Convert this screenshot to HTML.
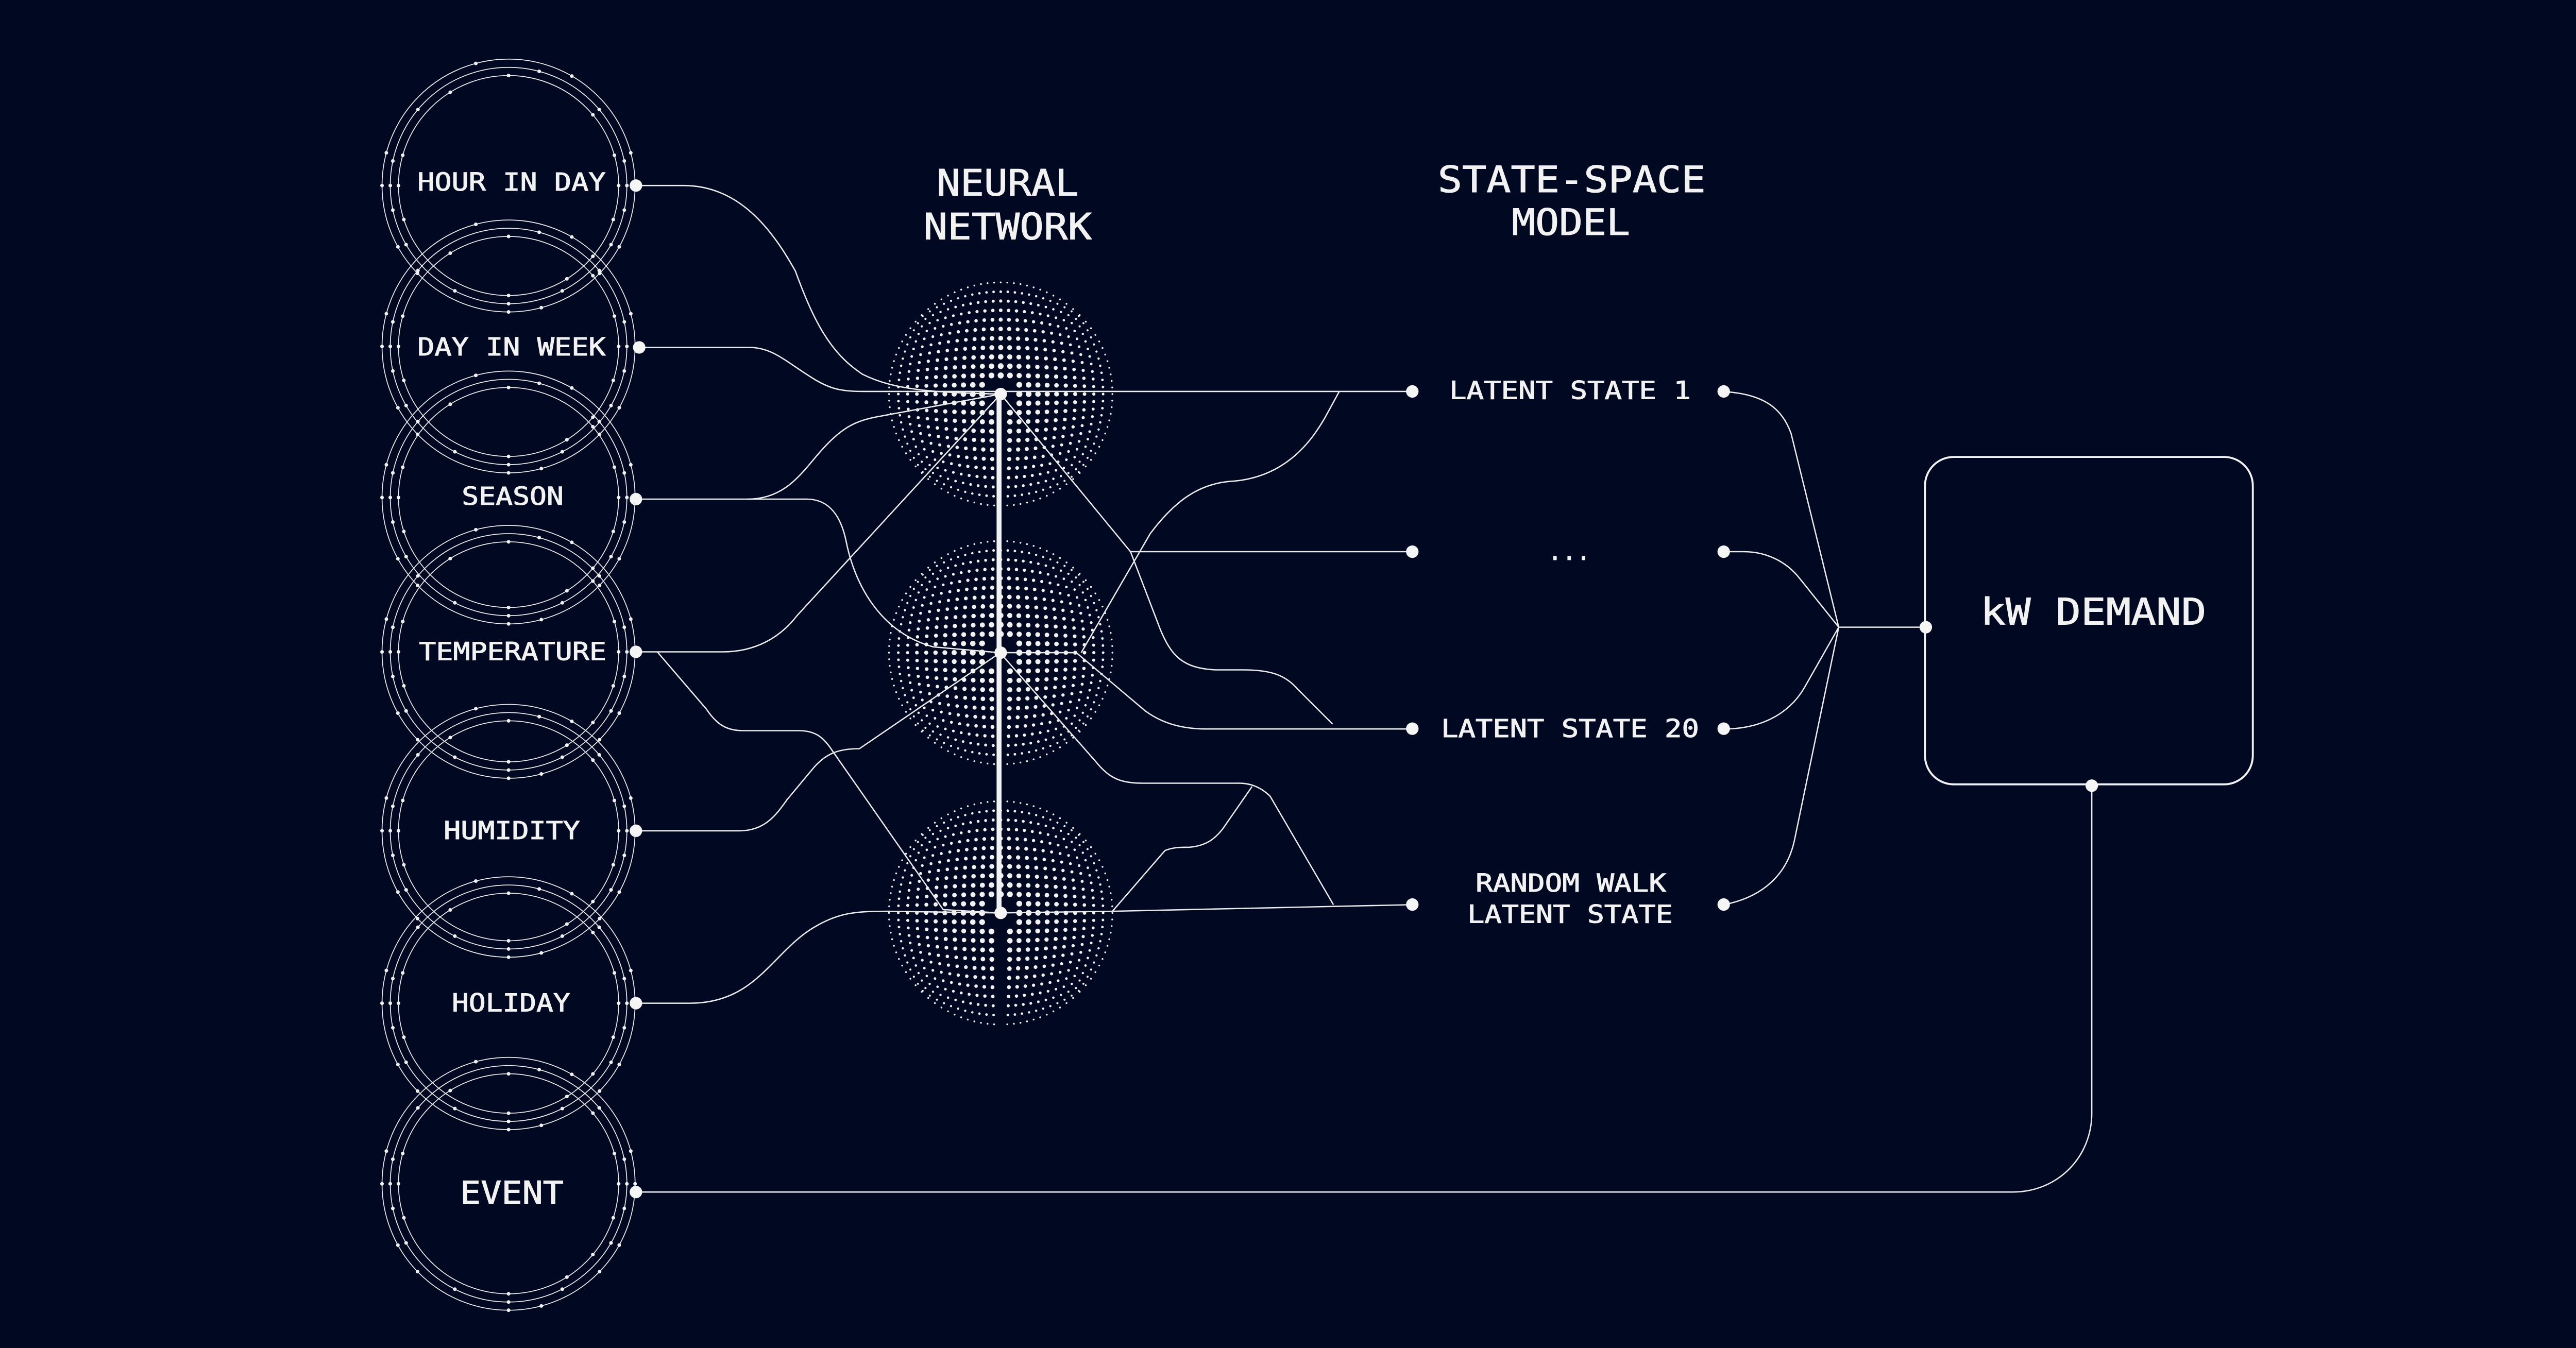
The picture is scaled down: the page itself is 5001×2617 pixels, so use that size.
<!DOCTYPE html>
<html><head><meta charset="utf-8">
<style>
html,body{margin:0;padding:0;background:#010922;}
svg{display:block}
text{font-family:"DejaVu Sans Mono","Liberation Mono",monospace;fill:#f2f2f2;stroke:#f2f2f2;stroke-width:0.35}
</style></head>
<body>
<svg id="s" width="5001" height="2617" viewBox="0 0 1568 821" preserveAspectRatio="none" xmlns="http://www.w3.org/2000/svg">
<rect width="1568" height="821" fill="#010922"/>
<g id="rings" fill="none" stroke="#e8e8e8" stroke-width="0.55"></g>
<g id="ringdots" fill="#f2f2f2"></g>
<g id="spheres" fill="#f2f2f2"></g>
<g fill="none" stroke="#ececec" stroke-width="0.8">
<path d="M387 113 H416 C450 113 470 140 484 165 C495 195 505 215 525 228 C545 238 570 239 608 240"/>
<path d="M389 211.6 H456 C470 211.6 478 220 494 230 C505 237 512 238.4 525 238.4 H859"/>
<path d="M387 304 H455 C475 304 485 292 495 280 C510 262 518 257 533 254 L609 240"/>
<path d="M455 304 H491 C505 304 512 315 515 330 C520 355 535 385 568 394 L608 397.5"/>
<path d="M387 397 H440 C460 397 475 388 485 375 L609 240"/>
<path d="M400 397 L430 432 C436 441 442 445 452 445 H486 C495 445 500 448 505 455 L574 554 L608 556"/>
<path d="M387 506 H450 C465 506 472 497 479 487 L494 469 C502 459 510 456 523 456 L608 398"/>
<path d="M387 611 H420 C460 611 470 580 495 565 C510 556 520 555 540 555 L608 556"/>
<path d="M658 397.5 L700 325 C715 305 730 294 751 293 C785 290 800 265 806 255 L815 238.5"/>
<path d="M688 336 H859"/>
<path d="M609 240 L688 336 L706 383 C713 400 720 407 740 408 H757 C775 408 783 412 790 420 L811 441"/>
<path d="M609 397.5 H655 L697 433 C708 441 720 444 735 444 H859"/>
<path d="M609 398 L667 464 C675 474 682 477 695 477 H754 C762 477 768 480 773 485 L811.5 551"/>
<path d="M609 556 L677 555 L859.5 551"/>
<path d="M677 555 L709 518 C714 516 718 516 724 516 C735 515 740 510 744 505 L762 479"/>
<path d="M1049 238.5 C1075 240 1085 250 1090 264 L1119 382"/>
<path d="M1049 336 H1061 C1075 336 1087 342 1095 352 L1119 382"/>
<path d="M1049 444 C1070 444 1088 436 1098 419 L1119 382"/>
<path d="M1049 551 C1070 547 1087 535 1092 512 L1119 382"/>
<path d="M1119 382 H1171"/>
<path d="M387 726 H1225 C1252 726 1273 705 1273 678 V478"/>
</g>
<rect x="1171.5" y="278.3" width="199.5" height="199.4" rx="17.5" fill="none" stroke="#f2f2f2" stroke-width="1.2"/>
<rect x="606.5" y="240" width="3" height="316" fill="#f2f2f2"/>
<g fill="#f5f5f5">
<circle cx="387" cy="113" r="3.8"/><circle cx="389" cy="211.6" r="3.8"/><circle cx="387" cy="304" r="3.8"/>
<circle cx="387" cy="397" r="3.8"/><circle cx="387" cy="506" r="3.8"/><circle cx="387" cy="611" r="3.8"/>
<circle cx="387" cy="726" r="3.8"/>
<circle cx="609" cy="240" r="3.8"/><circle cx="609" cy="397.5" r="3.8"/><circle cx="609" cy="556" r="3.8"/>
<circle cx="859.5" cy="238.4" r="3.8"/><circle cx="859.5" cy="336" r="3.8"/><circle cx="859.5" cy="443.8" r="3.8"/><circle cx="859.5" cy="550.9" r="3.8"/>
<circle cx="1049" cy="238.4" r="3.8"/><circle cx="1049" cy="336" r="3.8"/><circle cx="1049" cy="443.8" r="3.8"/><circle cx="1049" cy="550.9" r="3.8"/>
<circle cx="1172" cy="382" r="3.8"/><circle cx="1273" cy="478.5" r="3.8"/>
</g>
<g font-size="15">
<text x="254" y="116" textLength="114.6" lengthAdjust="spacingAndGlyphs">HOUR IN DAY</text>
<text x="254" y="216.5" textLength="114.6" lengthAdjust="spacingAndGlyphs">DAY IN WEEK</text>
<text x="281" y="307.5" textLength="62" lengthAdjust="spacingAndGlyphs">SEASON</text>
<text x="255" y="402" textLength="114" lengthAdjust="spacingAndGlyphs">TEMPERATURE</text>
<text x="270" y="511" textLength="83" lengthAdjust="spacingAndGlyphs">HUMIDITY</text>
<text x="275" y="616" textLength="72" lengthAdjust="spacingAndGlyphs">HOLIDAY</text>
<text x="882" y="243" textLength="147" lengthAdjust="spacingAndGlyphs">LATENT STATE 1</text>
<text x="942" y="341" textLength="26" lengthAdjust="spacingAndGlyphs">...</text>
<text x="877" y="449" textLength="157" lengthAdjust="spacingAndGlyphs">LATENT STATE 20</text>
<text x="898" y="543" textLength="116" lengthAdjust="spacingAndGlyphs">RANDOM WALK</text>
<text x="893" y="562" textLength="125" lengthAdjust="spacingAndGlyphs">LATENT STATE</text>
</g>
<text x="280" y="733" font-size="19" textLength="63" lengthAdjust="spacingAndGlyphs">EVENT</text>
<g font-size="22">
<text x="570" y="119" textLength="86.5" lengthAdjust="spacingAndGlyphs">NEURAL</text>
<text x="562" y="145.7" textLength="102.5" lengthAdjust="spacingAndGlyphs">NETWORK</text>
<text x="875" y="117" textLength="163" lengthAdjust="spacingAndGlyphs">STATE-SPACE</text>
<text x="920" y="143" textLength="72" lengthAdjust="spacingAndGlyphs">MODEL</text>
<text x="1205.3" y="380.4" font-size="22.5" textLength="137.4" lengthAdjust="spacingAndGlyphs">kW DEMAND</text>
</g>
</svg>
<script>
(function(){
var NS="http://www.w3.org/2000/svg";
function c(g,x,y,r){var e=document.createElementNS(NS,"circle");e.setAttribute("cx",x.toFixed(2));e.setAttribute("cy",y.toFixed(2));e.setAttribute("r",r.toFixed(2));g.appendChild(e);}
var rings=document.getElementById("rings"),rd=document.getElementById("ringdots");
var ys=[113,211,303,397,506,611,721];
var radii=[77,72,67];
var angs=[[0,180,-15,195,29,151,44,136,90,75,-105,-60],[180,0,12,168,-12,-168,-40,-140,30,150,63,117,90,-75],[0,180,-16,196,18,162,40,-40,90,-90,58,-122]];
ys.forEach(function(cy){
 radii.forEach(function(r,k){
  var e=document.createElementNS(NS,"circle");e.setAttribute("cx",309.5);e.setAttribute("cy",cy);e.setAttribute("r",r);rings.appendChild(e);
  angs[k].forEach(function(a){var t=a*Math.PI/180;c(rd,309.5+r*Math.cos(t),cy+r*Math.sin(t),1.1);});
 });
});
var sp=document.getElementById("spheres");
[[609,240],[609,397.5],[609,556]].forEach(function(p){
 var R=68,N=12;
 for(var i=-N;i<=N;i++)for(var j=-N;j<=N;j++){
  var u=i/N,v=j/N;
  var x=u*Math.sqrt(1-v*v/2),y=v*Math.sqrt(1-u*u/2);
  var d=Math.sqrt(x*x+y*y);
  if(d>1.0)continue;
  if(Math.abs(i)<=1&&Math.abs(j)<=1)continue;
  if(i==0&&j>0)continue;
  var a=Math.max(1-Math.abs(u),1-Math.abs(v));
  var r=0.55+1.5*Math.pow(1-d,0.7)*(0.5+0.5*a*a);
  c(sp,p[0]+x*R,p[1]+y*R,r);
 }
});
})();
</script>
</body></html>
